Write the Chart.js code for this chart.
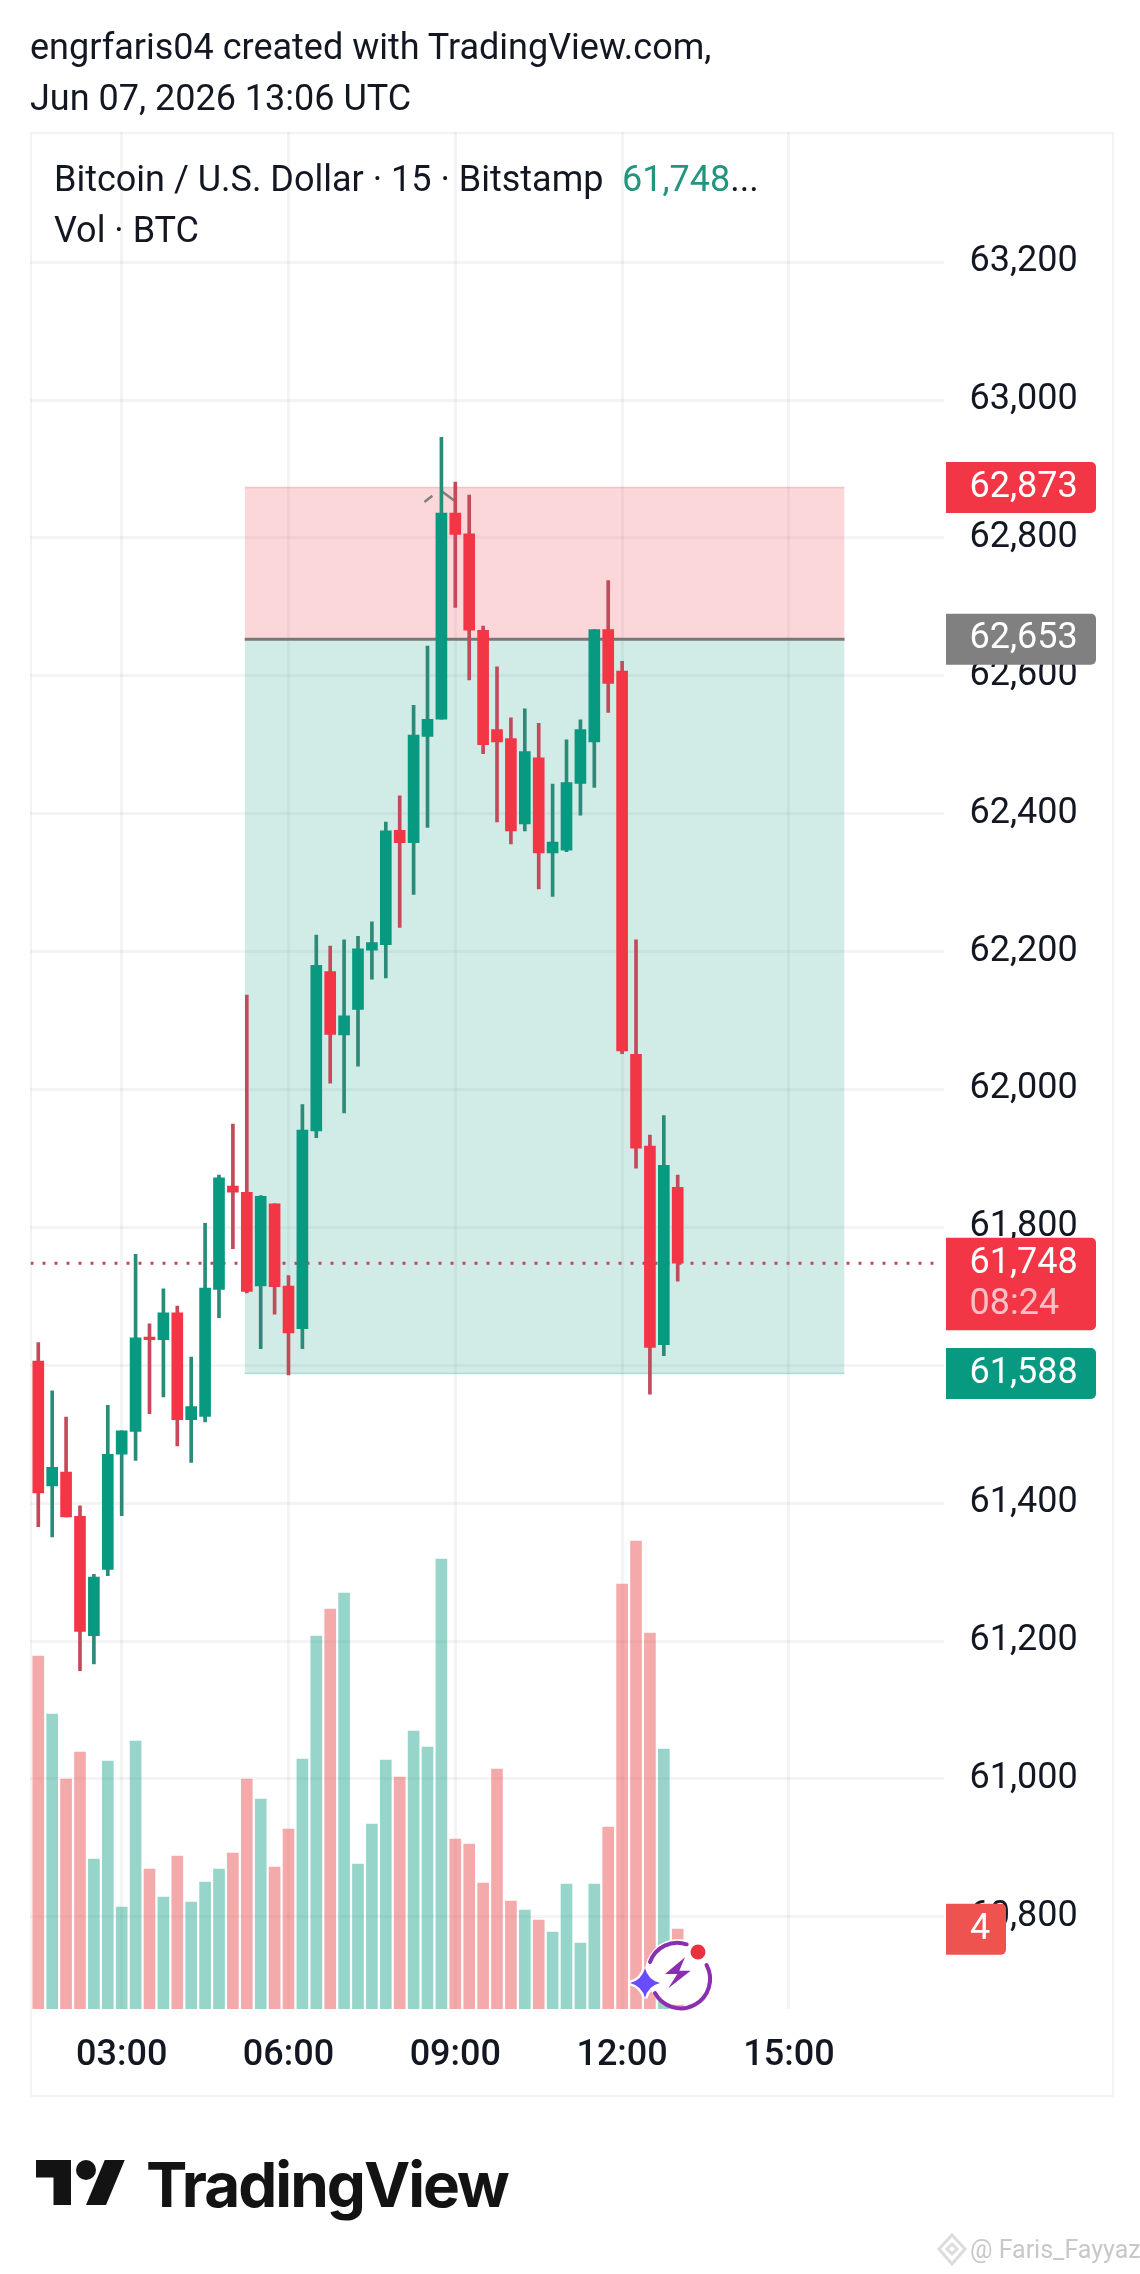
<!DOCTYPE html>
<html><head><meta charset="utf-8">
<script src="https://cdn.jsdelivr.net/npm/chart.js@4"></script>
<style>
html,body{margin:0;padding:0;background:#fff;width:1140px;height:2274px;overflow:hidden;font-family:Roboto,sans-serif;color:#131722}
#wrap{position:relative;width:1140px;height:2274px}
canvas{position:absolute;left:0;top:0}
.t{position:absolute;white-space:nowrap;font-size:36px;line-height:40px}
#box{position:absolute;left:30px;top:132px;width:1080px;height:1961px;border:2px solid #f3f3f3}
</style></head><body><div id="wrap">
<div id="box"></div>
<canvas id="c" width="1140" height="2274"></canvas>
<div class="t" style="left:30px;top:27px">engrfaris04 created with TradingView.com,</div>
<div class="t" style="left:30px;top:78px">Jun 07, 2026 13:06 UTC</div>
<div class="t" style="left:54px;top:159px">Bitcoin / U.S. Dollar · 15 · Bitstamp</div>
<div class="t" style="left:622px;top:159px"><span style="color:#22957f">61,748</span>...</div>
<div class="t" style="left:54px;top:210px">Vol · BTC</div>
<svg style="position:absolute;left:36px;top:2150px" width="90" height="70" viewBox="0 0 36 28"><path fill="#131313" d="M14 22H7V11H0V4h14v18zM28 22h-8l7.5-18h8L28 22z"/><circle cx="20" cy="8" r="4" fill="#131313"/></svg>
<div class="t" style="left:146px;top:2147px;font:700 62px/76px Inter,Roboto,sans-serif;letter-spacing:-2px;color:#131313">TradingView</div>
<svg style="position:absolute;left:936px;top:2232px" width="32" height="36" viewBox="0 0 32 36"><path d="M16 3 29 17 16 32 3 17Z" fill="none" stroke="#dcdcdc" stroke-width="3"/><path d="M16 12 21 17 16 22 11 17Z" fill="none" stroke="#dcdcdc" stroke-width="3"/></svg>
<div class="t" style="left:970px;top:2232px;font-size:25px;line-height:36px;color:#c8c8c8">@ Faris_Fayyaz</div>
<svg style="position:absolute;left:630px;top:1935px" width="90" height="80" viewBox="0 0 90 80">
<circle cx="48" cy="37" r="33" fill="#fff"/>
<path d="M20 27 A29 29 0 0 1 56.7 9.3" fill="none" stroke="#8a2fb0" stroke-width="4" stroke-linecap="round"/>
<path d="M76.5 30 A29 29 0 0 1 25 58" fill="none" stroke="#8a2fb0" stroke-width="4" stroke-linecap="round"/>
<path d="M55 22.3 35 39 47.3 39 38.3 53.3 60.7 35.7 49.3 35.7Z" fill="#8a2fb0"/>
<path d="M15 33 Q18 45 30 48 Q18 51 15 63 Q12 51 0 48 Q12 45 15 33Z" fill="#6a4cff" stroke="#fff" stroke-width="5" paint-order="stroke"/>
<circle cx="68" cy="17" r="7.5" fill="#e8333f"/>
</svg>
</div>
<script>
const opens  =[61606,61425,61445,61381,61208,61304,61471,61504,61641,61637,61676,61521,61526,61710,61860,61851,61715,61834,61715,61653,61940,62171,62079,62116,62202,62210,62376,62358,62512,62537,62836,62806,62666,62522,62509,62385,62481,62343,62347,62444,62504,62667,62607,62051,61918,61630,61858];
const closes =[61415,61452,61380,61214,61293,61471,61505,61640,61637,61676,61521,61540,61712,61872,61851,61707,61845,61714,61647,61941,62180,62080,62107,62204,62213,62375,62358,62514,62537,62836,62805,62666,62500,62504,62375,62490,62343,62359,62445,62522,62667,62589,62056,61915,61626,61890,61748];
const highs  =[61633,61563,61525,61396,61297,61542,61505,61761,61660,61711,61686,61612,61806,61876,61950,62137,61846,61834,61730,61978,62224,62208,62217,62222,62243,62388,62426,62557,62643,62946,62881,62862,62672,62613,62539,62552,62531,62443,62507,62536,62667,62738,62621,62217,61934,61962,61876];
const lows   =[61366,61351,61380,61157,61167,61295,61382,61462,61530,61554,61483,61459,61518,61669,61769,61705,61624,61674,61586,61624,61930,62009,61966,62034,62160,62162,62235,62283,62380,62537,62699,62594,62487,62388,62356,62375,62291,62280,62345,62398,62438,62547,62052,61886,61558,61614,61722];
const volumes=[35.3,29.5,23.0,25.7,15.0,24.8,10.2,26.8,14.0,11.2,15.3,10.7,12.7,14.0,15.6,23.0,21.0,14.2,18.0,25.0,37.3,40.0,41.6,14.5,18.5,24.9,23.2,27.8,26.2,45.0,17.0,16.5,12.6,24.0,10.8,9.9,8.9,7.7,12.5,6.6,12.5,18.2,42.5,46.8,37.6,26.0,8.0];
const priceTicks=[63200,63000,62800,62600,62400,62200,62000,61800,61600,61400,61200,61000,60800];
const timeTickIndex=[6,18,30,42,54];
const timeLabels=['03:00','06:00','09:00','12:00','15:00'];
const zoneStart=14.85, zoneEnd=58;
const stopPrice=62873, entryPrice=62653, targetPrice=61588, lastPrice=61748;
const countdown='08:24', badgeCount='4', badgeCountPrice=60782;
const chevronLeft=[[27.78,62852],[28.35,62861]];
const chevronRight=[[29.07,62867],[29.94,62854]];

const UP='#089981', DOWN='#f23645';
const idx=opens.map((_,i)=>i);
const isUp=i=>closes[i]>=opens[i];
const zone=(p,q,fill,line,w)=>({type:'line',data:[{x:zoneStart,y:p},{x:zoneEnd,y:p}],fill:{target:{value:q}},backgroundColor:fill,borderColor:line,borderWidth:w,pointRadius:0,order:10});
const fmt=v=>Number(v).toLocaleString('en-US');

const badges={id:'badges',afterDraw(ch){
  const g=ch.ctx,y=ch.scales.y,L=946,R=1096;
  function box(x0,x1,y0,y1,c){g.fillStyle=c;g.beginPath();g.roundRect(x0,y0,x1-x0,y1-y0,[0,5,5,0]);g.fill();}
  function txt(s,x,yy,c){g.fillStyle=c;g.font='36px Roboto';g.textAlign='left';g.textBaseline='middle';g.fillText(s,x,yy);}
  let p=y.getPixelForValue(stopPrice);box(L,R,p-25.5,p+25.5,DOWN);txt(fmt(stopPrice),969.5,p,'#fff');
  p=y.getPixelForValue(entryPrice);box(L,R,p-25.5,p+25.5,'#808080');txt(fmt(entryPrice),969.5,p,'#fff');
  p=y.getPixelForValue(lastPrice);box(L,R,p-25.5,p+67,DOWN);txt(fmt(lastPrice),969.5,p+1,'#fff');txt(countdown,969.5,p+42,'#fbc0c6');
  p=y.getPixelForValue(targetPrice);box(L,R,p-25.5,p+25.5,UP);txt(fmt(targetPrice),969.5,p,'#fff');
  p=y.getPixelForValue(badgeCountPrice);box(L,1006,p-25.5,p+25.5,'#ef5350');txt(badgeCount,970,p+1,'#fff');
}};

new Chart(document.getElementById('c'),{
  type:'bar',
  data:{datasets:[
    zone(stopPrice,entryPrice,'rgba(242,54,69,0.2)','rgba(242,54,69,0.25)',1.5),
    zone(targetPrice,entryPrice,'rgba(8,153,129,0.19)','rgba(8,153,129,0.25)',1.5),
    {type:'line',data:[{x:zoneStart,y:entryPrice},{x:zoneEnd,y:entryPrice}],borderColor:'#787878',borderWidth:3,pointRadius:0,order:9},
    {type:'line',data:[{x:-0.56,y:lastPrice},{x:64.4,y:lastPrice}],borderColor:'#bf4a58',borderWidth:3,borderDash:[3,9],pointRadius:0,order:9},
    {type:'line',data:chevronLeft.map(([x,y])=>({x,y})),borderColor:'#808080',borderWidth:2.5,pointRadius:0,order:3},
    {type:'line',data:chevronRight.map(([x,y])=>({x,y})),borderColor:'#808080',borderWidth:2.5,pointRadius:0,order:3},
    {yAxisID:'vol',data:idx.map(i=>({x:i,y:volumes[i]})),barThickness:11,grouped:false,order:8,
      backgroundColor:idx.map(i=>isUp(i)?'rgba(8,153,129,0.42)':'rgba(232,75,75,0.47)')},
    {data:idx.map(i=>({x:i,y:[lows[i],highs[i]]})),barThickness:3,grouped:false,order:2,
      backgroundColor:idx.map(i=>isUp(i)?'#2c8a79':'#c24a5a')},
    {data:idx.map(i=>({x:i,y:[opens[i],closes[i]]})),barThickness:11,grouped:false,order:1,
      backgroundColor:idx.map(i=>isUp(i)?UP:DOWN)}
  ]},
  options:{
    responsive:false,animation:false,devicePixelRatio:1,
    layout:{padding:{left:30.5,top:132,right:0,bottom:0}},
    plugins:{legend:{display:false},tooltip:{enabled:false}},
    scales:{
      x:{type:'linear',offset:false,min:-0.56,max:65.12,
        afterBuildTicks(s){s.ticks=timeTickIndex.map(v=>({value:v}));},
        afterFit(s){s.height=265;},
        grid:{offset:false,color:'rgba(40,40,60,0.05)',lineWidth:3,drawTicks:false},border:{display:false},
        ticks:{autoSkip:false,maxRotation:0,padding:25,color:'#131722',font:{family:'Roboto',size:36,weight:'500'},
          callback:v=>timeLabels[timeTickIndex.indexOf(v)]}},
      y:{position:'right',min:60666.4,max:63388.7,
        afterBuildTicks(s){s.ticks=priceTicks.map(v=>({value:v}));},
        afterFit(s){s.width=196.5;},
        grid:{color:'rgba(40,40,60,0.05)',lineWidth:3,drawTicks:false},border:{display:false},
        ticks:{autoSkip:false,padding:26,labelOffset:0,color:'#131722',font:{family:'Roboto',size:36},callback:fmt}},
      vol:{display:false,min:0,max:187.7}
    }
  },
  plugins:[badges]
});
</script></body></html>
